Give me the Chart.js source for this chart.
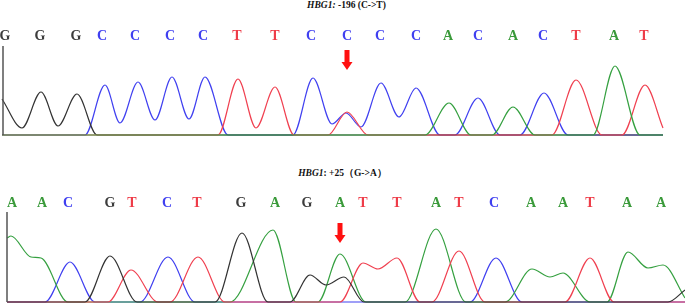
<!DOCTYPE html>
<html>
<head>
<meta charset="utf-8">
<script src="https://cdn.jsdelivr.net/npm/chart.js@4.4.1/dist/chart.umd.min.js"></script>
<style>
    html, body { margin: 0; padding: 0; background: #fff; }
    #wrap { position: relative; width: 685px; height: 305px; overflow: hidden; }
    canvas { position: absolute; left: 0; }
    .ttl { position: absolute; left: 0; width: 685px; text-align: center;
           font-family: "Liberation Serif", serif; font-weight: bold; font-size: 9.5px; color: #111; }
</style>
</head>
<body>
<div id="wrap">
    <div class="ttl" style="top:0px;left:4px"><i>HBG1:</i> -196 (C-&gt;T)</div>
    <canvas id="top" width="685" height="140" style="top:0"></canvas>
    <div class="ttl" style="top:167px;left:0px"><i>HBG1</i>: +25（G-&gt;A）</div>
    <canvas id="bottom" width="685" height="155" style="top:150px"></canvas>
</div>
<script>
(function () {
    "use strict";

    // base calls (letter, position along the trace)
    const topBases = ["G","G","G","C","C","C","C","T","T","C","C","C","C","A","C","A","C","T","A","T"];
    const topBasePos = [5, 40, 76, 102, 135, 170, 203, 237, 275, 311, 347, 380, 416, 448, 478, 513, 543, 576, 614, 644];
    const bottomBases = ["A","A","C","G","T","C","T","G","A","G","A","T","T","A","T","C","A","A","T","A","A"];
    const bottomBasePos = [12, 42, 68, 110, 132, 167, 197, 241, 275, 307, 340, 363, 397, 436, 459, 494, 531, 563, 590, 627, 661];

    // mutation arrows
    const topMutation = 347;
    const bottomMutation = 340;

    // trace peaks/troughs: [position, signal]
    const topBlack = [[2, 36], [22, 7], [41, 43], [58, 9], [77, 41], [97, 0], [663, 0]];
    const topBlue = [[2, 0], [85, 0], [105, 50], [120, 12], [138, 53], [155, 15], [172, 58], [189, 16],
        [205, 58], [228, 0], [293, 0], [313, 57], [332, 11], [346, 22], [361, 8], [381, 52], [399, 18],
        [416, 47], [440, 0], [455, 0], [478, 37], [500, 0], [520, 0], [544, 42], [568, 0], [663, 0]];
    const topRed = [[2, 0], [218, 0], [238, 56], [256, 7], [275, 48], [294, 0], [328, 0], [347, 23],
        [368, 0], [552, 0], [576, 55], [602, 0], [622, 0], [645, 50], [663, 7]];
    const topGreen = [[2, 0], [425, 0], [449, 32], [471, 0], [492, 0], [513, 28], [535, 0], [593, 0],
        [615, 69], [640, 0], [663, 0]];

    const bottomBlack = [[7, 0], [85, 0], [110, 46], [137, 0], [215, 0], [242, 69], [268, 0], [290, 0],
        [310, 27], [326, 17], [344, 25], [364, 0], [668, 0], [685, 12]];
    const bottomBlue = [[7, 0], [45, 0], [70, 40], [95, 0], [140, 0], [168, 45], [195, 0], [470, 0],
        [496, 44], [522, 0], [685, 0]];
    const bottomRed = [[7, 0], [108, 0], [131, 32], [158, 0], [170, 0], [198, 45], [225, 0], [340, 0],
        [363, 39], [378, 33], [397, 44], [420, 0], [432, 0], [459, 51], [485, 0], [565, 0], [590, 44],
        [614, 0], [685, 0]];
    const bottomGreen = [[7, 64], [11, 66], [31, 45], [41, 44], [68, 0], [230, 0], [273, 72], [296, 0],
        [318, 0], [340, 48], [366, 0], [405, 0], [436, 73], [466, 0], [505, 0], [532, 33], [550, 25],
        [563, 29], [590, 0], [607, 0], [628, 50], [648, 34], [663, 37], [685, 4]];

    const baseColor = { A: "#3a9a3a", C: "#4040f0", G: "#3c3c3c", T: "#ee3c48" };
    const traceColor = { A: "#35a040", C: "#4040f0", G: "#333333", T: "#f04050" };

    const toPoints = (arr) => arr.map((p) => ({ x: p[0], y: p[1] }));

    const trace = (arr, color) => ({
        data: toPoints(arr),
        borderColor: color,
        borderWidth: 1.2,
        pointRadius: 0,
        cubicInterpolationMode: "monotone",
        fill: false,
    });

    const basePlugin = {
        id: "bases",
        afterDatasetsDraw(chart, args, opts) {
            const ctx = chart.ctx;
            const x = chart.scales.x;
            const y = chart.scales.y;
            ctx.save();
            ctx.font = "bold 14px 'Liberation Serif', serif";
            ctx.textAlign = "center";
            ctx.textBaseline = "middle";
            opts.letters.forEach((b, i) => {
                ctx.fillStyle = baseColor[b];
                ctx.fillText(b, x.getPixelForValue(opts.pos[i]), y.getPixelForValue(opts.letterY));
            });
            // red arrow
            const ax = x.getPixelForValue(opts.arrow);
            const a0 = y.getPixelForValue(opts.arrowTop);
            const a1 = y.getPixelForValue(opts.arrowBottom);
            const headH = 8;
            ctx.fillStyle = "#ff1010";
            ctx.fillRect(ax - 2.5, a0, 5, a1 - a0 - headH);
            ctx.beginPath();
            ctx.moveTo(ax - 5.5, a1 - headH);
            ctx.lineTo(ax + 5.5, a1 - headH);
            ctx.lineTo(ax, a1);
            ctx.closePath();
            ctx.fill();
            ctx.restore();
        },
    };

    const makeChart = (id, sets, yMin, yMax, axisX, axisTop, plugOpts) => {
        const ctx = document.getElementById(id).getContext("2d");
        return new Chart(ctx, {
            type: "line",
            data: {
                datasets: [
                    {
                        data: [{ x: axisX, y: 0 }, { x: axisX, y: axisTop }],
                        borderColor: "#555555",
                        borderWidth: 1.5,
                        pointRadius: 0,
                    },
                ].concat(sets),
            },
            options: {
                responsive: false,
                animation: false,
                devicePixelRatio: 1,
                layout: { padding: 0 },
                plugins: {
                    legend: { display: false },
                    tooltip: { enabled: false },
                    bases: plugOpts,
                },
                scales: {
                    x: { type: "linear", min: 0, max: 685, display: false },
                    y: { min: yMin, max: yMax, display: false },
                },
            },
            plugins: [basePlugin],
        });
    };

    makeChart("top", [
        trace(topGreen, traceColor.A),
        trace(topRed, traceColor.T),
        trace(topBlack, traceColor.G),
        trace(topBlue, traceColor.C),
    ], -5, 135, 3, 89, {
        letters: topBases, pos: topBasePos, letterY: 99,
        arrow: topMutation, arrowTop: 85, arrowBottom: 65,
    });

    makeChart("bottom", [
        trace(bottomBlack, traceColor.G),
        trace(bottomRed, traceColor.T),
        trace(bottomGreen, traceColor.A),
        trace(bottomBlue, traceColor.C),
    ], -3, 152, 7, 90, {
        letters: bottomBases, pos: bottomBasePos, letterY: 99,
        arrow: bottomMutation, arrowTop: 79, arrowBottom: 59,
    });
})();
</script>
</body>
</html>
